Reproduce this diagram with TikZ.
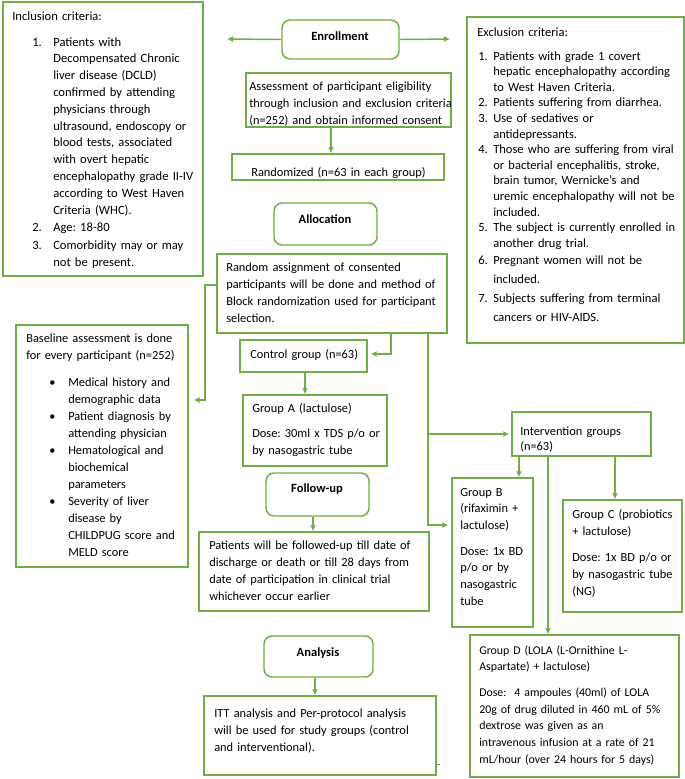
\documentclass[tikz,border=0pt]{standalone}
\usepackage{fontspec}
\setmainfont{Carlito}
\usetikzlibrary{arrows.meta,fit}
\definecolor{grn}{RGB}{112,173,71}
% list item: hang width, label; lines broken with \newline, item ended with \par
\newcommand\itm[2]{\hangindent=#1\hangafter=1\noindent\makebox[#1][l]{#2}\ignorespaces}
\begin{document}
\begin{tikzpicture}[x=0.75pt,y=-0.75pt,
 execute at begin node=\frenchspacing,
 box/.style={draw=grn, line width=1.1pt, inner sep=0pt},
 rbox/.style={box, rounded corners=6pt},
 txt/.style={anchor=base west, inner sep=0pt, align=left, text width=200pt, font=\fontsize{9.3}{12.75}\selectfont},
 hd/.style={anchor=base, inner sep=0pt, font=\fontsize{9.4}{12}\selectfont\bfseries},
 arr/.style={draw=grn, line width=1.1pt, -{Latex[length=4.5pt,width=4.5pt]}},
 ln/.style={draw=grn, line width=1.1pt}]
\useasboundingbox (0,0) rectangle (685,779);
% boxes
\node[box, fit={(3,2)(203,276)}] (inc) {};
\node[rbox, fit={(282,20)(399,59)}] (enroll) {};
\node[box, fit={(246,73)(451,127)}] (assess) {};
\node[box, fit={(232,154)(444,180)}] (rand) {};
\node[box, fit={(467,17)(684,343)}] (exc) {};
\node[rbox, fit={(274,203)(377,245)}] (alloc) {};
\node[box, fit={(217,254)(447,333)}] (rassign) {};
\node[box, fit={(16,325)(188,567)}] (base) {};
\node[box, fit={(240,340)(367,372)}] (control) {};
\node[box, fit={(243,395)(387,466)}] (grpA) {};
\node[rbox, fit={(266,473)(369,516)}] (follow) {};
\node[box, fit={(512,412)(651,456)}] (interv) {};
\node[box, fit={(452,478)(533,627)}] (grpB) {};
\node[box, fit={(563,500)(682,612)}] (grpC) {};
\node[box, fit={(199,532)(429,611)}] (pat) {};
\node[rbox, fit={(264,636)(373,677)}] (analysis) {};
\node[box, fit={(204,696)(436,775)}] (itt) {};
\node[box, fit={(470,635)(679,777)}] (grpD) {};
% texts
\node[txt, font=\fontsize{9.45}{12.65}\selectfont] (inc-h) at (12,20) {Inclusion criteria:};
\node[txt, font=\fontsize{9.45}{12.6}\selectfont] (inc-t) at (32,46) {%
\itm{15.75pt}{1.}Patients with\newline Decompensated Chronic\newline liver disease (DCLD)\newline confirmed by attending\newline physicians through\newline ultrasound, endoscopy or\newline blood tests, associated\newline with overt hepatic\newline encephalopathy grade II-IV\newline according to West Haven\newline Criteria (WHC).\par\vspace{0.6pt}
\itm{15.75pt}{2.}Age: 18-80\par\vspace{0.6pt}
\itm{15.75pt}{3.}Comorbidity may or may\newline not be present.\par};
\node[hd] (enroll-t) at (340,40) {Enrollment};
\node[txt] (assess-t) at (249,90) {Assessment of participant eligibility\\through inclusion and exclusion criteria\\(n=252) and obtain informed consent};
\node[txt] (rand-t) at (251,176) {Randomized (n=63 in each group)};
\node[txt, font=\fontsize{9.4}{11.7}\selectfont] (exc-h) at (477,36) {Exclusion criteria:};
\node[txt, font=\fontsize{9.4}{11.7}\selectfont] (exc-t) at (478,60) {%
\itm{11.25pt}{1.}Patients with grade 1 covert\newline hepatic encephalopathy according\newline to West Haven Criteria.\par
\itm{11.25pt}{2.}Patients suffering from diarrhea.\par
\itm{11.25pt}{3.}Use of sedatives or\newline antidepressants.\par
\itm{11.25pt}{4.}Those who are suffering from viral\newline or bacterial encephalitis, stroke,\newline brain tumor, Wernicke’s and\newline uremic encephalopathy will not be\newline included.\par
\itm{11.25pt}{5.}The subject is currently enrolled in\newline another drug trial.\par};
\node[txt, font=\fontsize{9.4}{14.4}\selectfont] (exc-t2) at (478,264) {%
\itm{11.25pt}{6.}\makebox[137pt][s]{Pregnant women will not be}\newline included.\par
\itm{11.25pt}{7.}\makebox[137pt][s]{Subjects suffering from terminal}\newline cancers or HIV-AIDS.\par};
\node[hd] (alloc-t) at (325,223) {Allocation};
\node[txt] (rassign-t) at (226,271) {Random assignment of consented\\participants will be done and method of\\Block randomization used for participant\\selection.};
\node[txt] (base-h) at (26,342) {Baseline assessment is done\\for every participant (n=252)};
\node[txt, font=\fontsize{9.3}{12.8}\selectfont] (base-t) at (49,386) {%
\itm{14.25pt}{\textbullet}Medical history and\newline demographic data\par
\itm{14.25pt}{\textbullet}Patient diagnosis by\newline attending physician\par
\itm{14.25pt}{\textbullet}Hematological and\newline biochemical\newline parameters\par
\itm{14.25pt}{\textbullet}Severity of liver\newline disease by\newline CHILDPUG score and\newline MELD score\par};
\node[txt] (control-t) at (250,358) {Control group (n=63)};
\node[txt] (grpA-t) at (252,412) {Group A (lactulose)\\[6pt]Dose: 30ml x TDS p/o or\\by nasogastric tube};
\node[hd] (follow-t) at (317,492) {Follow-up};
\node[txt] (pat-t) at (209,549) {Patients will be followed-up till date of\\discharge or death or till 28 days from\\date of participation in clinical trial\\whichever occur earlier};
\node[hd] (analysis-t) at (318,656) {Analysis};
\node[txt] (itt-t) at (214,717) {ITT analysis and Per-protocol analysis\\will be used for study groups (control\\and interventional).};
\node[txt, font=\fontsize{9.3}{11.6}\selectfont] (interv-t) at (520,435) {Intervention groups\\(n=63)};
\node[txt, font=\fontsize{9.3}{12.5}\selectfont] (grpB-t) at (460,496) {Group B\\(rifaximin +\\lactulose)\\[6.75pt]Dose: 1x BD\\p/o or by\\nasogastric\\tube};
\node[txt, font=\fontsize{9.3}{12.75}\selectfont] (grpC-t) at (572,518) {Group C (probiotics\\+ lactulose)\\[6.75pt]Dose: 1x BD p/o or\\by nasogastric tube\\(NG)};
\node[txt, font=\fontsize{8.9}{12.55}\selectfont] (grpD-t) at (479,654) {Group D (LOLA (L-Ornithine L-\\Aspartate) + lactulose)\\[6.75pt]Dose:\ \ 4 ampoules (40ml) of LOLA\\20g of drug diluted in 460 mL of 5\%\\dextrose was given as an\\intravenous infusion at a rate of 21\\mL/hour (over 24 hours for 5 days)};
% connectors
\coordinate (inL) at (227,39);
\coordinate (inR) at (450,39);
\draw[arr] (enroll.west) -- (inL);
\draw[arr] (enroll.east) -- (inR);
\draw[arr] (assess.south -| 331,0) -- (rand.north -| 331,0);
\draw[arr, shorten >=3.75pt] (rassign.west |- 0,285) -| (205,400) -- (base.east |- 0,400);
\draw[arr, shorten >=2.25pt] (rassign.south -| 391,0) |- (control.east |- 0,354);
\draw[arr, shorten >=2.25pt] (rassign.south -| 428,0) |- (grpB.west |- 0,525);
\draw[arr, shorten >=1.5pt] (interv.west -| 428,0) -- (interv.west);
\draw[arr] (control.south -| 305,0) -- (grpA.north -| 305,0);
\draw[arr] (follow.south -| 313,0) -- (pat.north -| 313,0);
\draw[arr] (interv.south -| 519,0) -- (grpB.north -| 519,0);
\draw[arr] (interv.south -| 615,0) -- (grpC.north -| 615,0);
\draw[arr] (interv.south -| 548,0) -- (grpD.north -| 548,0);
\draw[arr] (analysis.south -| 315,0) -- (itt.north -| 315,0);
\draw[line width=0.6pt, gray] (437,764) -- (440,764);
\end{tikzpicture}
\end{document}
